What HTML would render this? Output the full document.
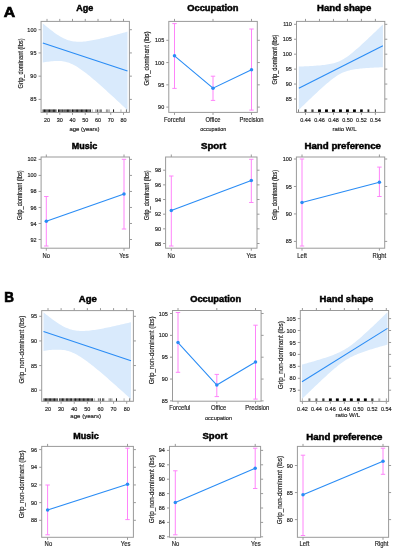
<!DOCTYPE html>
<html><head><meta charset="utf-8"><style>
html,body{margin:0;padding:0;background:#fff;width:396px;height:550px;overflow:hidden}
svg{display:block;will-change:transform;font-family:"Liberation Sans", sans-serif}
</style></head><body>
<svg width="396" height="550" viewBox="0 0 396 550" fill="#1e1e1e">
<polygon fill="#d9eafc" points="42.80,23.40 44.21,24.59 45.62,25.77 47.03,26.93 48.45,28.08 49.86,29.20 51.27,30.29 52.68,31.36 54.09,32.40 55.50,33.41 56.92,34.38 58.33,35.30 59.74,36.17 61.15,37.00 62.56,37.76 63.97,38.47 65.39,39.10 66.80,39.67 68.21,40.17 69.62,40.60 71.03,40.95 72.44,41.24 73.86,41.46 75.27,41.62 76.68,41.72 78.09,41.77 79.50,41.77 80.91,41.73 82.33,41.65 83.74,41.54 85.15,41.40 86.56,41.23 87.97,41.03 89.38,40.82 90.80,40.59 92.21,40.34 93.62,40.07 95.03,39.79 96.44,39.50 97.85,39.20 99.27,38.89 100.68,38.58 102.09,38.25 103.50,37.92 104.91,37.58 106.32,37.23 107.74,36.88 109.15,36.52 110.56,36.16 111.97,35.80 113.38,35.43 114.79,35.06 116.21,34.69 117.62,34.31 119.03,33.93 120.44,33.55 121.85,33.16 123.27,32.77 124.68,32.38 126.09,31.99 127.50,31.60 127.50,110.20 126.09,108.88 124.68,107.56 123.27,106.24 121.85,104.92 120.44,103.60 119.03,102.29 117.62,100.98 116.21,99.67 114.79,98.37 113.38,97.07 111.97,95.77 110.56,94.48 109.15,93.19 107.74,91.90 106.32,90.62 104.91,89.34 103.50,88.07 102.09,86.81 100.68,85.55 99.27,84.31 97.85,83.07 96.44,81.84 95.03,80.62 93.62,79.41 92.21,78.21 90.80,77.03 89.38,75.87 87.97,74.73 86.56,73.60 85.15,72.50 83.74,71.43 82.33,70.39 80.91,69.38 79.50,68.41 78.09,67.48 76.68,66.60 75.27,65.77 73.86,65.00 72.44,64.29 71.03,63.65 69.62,63.07 68.21,62.57 66.80,62.14 65.39,61.78 63.97,61.48 62.56,61.26 61.15,61.09 59.74,60.99 58.33,60.93 56.92,60.92 55.50,60.96 54.09,61.04 52.68,61.15 51.27,61.29 49.86,61.45 48.45,61.64 47.03,61.86 45.62,62.09 44.21,62.34 42.80,62.60"/>
<line x1="42.8" y1="43.0" x2="127.5" y2="70.9" stroke="#2a8cf5" stroke-width="1.1"/>
<rect x="42.67" y="109.40" width="1.0" height="3" fill="#000" fill-opacity="0.95"/>
<rect x="43.95" y="109.40" width="1.0" height="3" fill="#000" fill-opacity="0.95"/>
<rect x="45.23" y="109.40" width="1.0" height="3" fill="#000" fill-opacity="0.95"/>
<rect x="46.50" y="109.40" width="1.0" height="3" fill="#000" fill-opacity="0.95"/>
<rect x="47.77" y="109.40" width="1.0" height="3" fill="#000" fill-opacity="0.95"/>
<rect x="49.05" y="109.40" width="1.0" height="3" fill="#000" fill-opacity="0.95"/>
<rect x="50.33" y="109.40" width="1.0" height="3" fill="#000" fill-opacity="0.95"/>
<rect x="51.60" y="109.40" width="1.0" height="3" fill="#000" fill-opacity="0.95"/>
<rect x="52.88" y="109.40" width="1.0" height="3" fill="#000" fill-opacity="0.95"/>
<rect x="54.15" y="109.40" width="1.0" height="3" fill="#000" fill-opacity="0.95"/>
<rect x="55.42" y="109.40" width="1.0" height="3" fill="#000" fill-opacity="0.95"/>
<rect x="57.98" y="109.40" width="1.0" height="3" fill="#000" fill-opacity="0.95"/>
<rect x="59.25" y="109.40" width="1.0" height="3" fill="#000" fill-opacity="0.95"/>
<rect x="60.52" y="109.40" width="1.0" height="3" fill="#000" fill-opacity="0.95"/>
<rect x="61.80" y="109.40" width="1.0" height="3" fill="#000" fill-opacity="0.95"/>
<rect x="63.08" y="109.40" width="1.0" height="3" fill="#000" fill-opacity="0.6"/>
<rect x="64.35" y="109.40" width="1.0" height="3" fill="#000" fill-opacity="0.95"/>
<rect x="65.62" y="109.40" width="1.0" height="3" fill="#000" fill-opacity="0.95"/>
<rect x="66.90" y="109.40" width="1.0" height="3" fill="#000" fill-opacity="0.95"/>
<rect x="68.17" y="109.40" width="1.0" height="3" fill="#000" fill-opacity="0.95"/>
<rect x="69.45" y="109.40" width="1.0" height="3" fill="#000" fill-opacity="0.95"/>
<rect x="70.72" y="109.40" width="1.0" height="3" fill="#000" fill-opacity="0.6"/>
<rect x="72.00" y="109.40" width="1.0" height="3" fill="#000" fill-opacity="0.95"/>
<rect x="73.28" y="109.40" width="1.0" height="3" fill="#000" fill-opacity="0.95"/>
<rect x="74.55" y="109.40" width="1.0" height="3" fill="#000" fill-opacity="0.95"/>
<rect x="75.83" y="109.40" width="1.0" height="3" fill="#000" fill-opacity="0.95"/>
<rect x="77.10" y="109.40" width="1.0" height="3" fill="#000" fill-opacity="0.95"/>
<rect x="78.38" y="109.40" width="1.0" height="3" fill="#000" fill-opacity="0.95"/>
<rect x="79.65" y="109.40" width="1.0" height="3" fill="#000" fill-opacity="0.95"/>
<rect x="80.92" y="109.40" width="1.0" height="3" fill="#000" fill-opacity="0.95"/>
<rect x="82.20" y="109.40" width="1.0" height="3" fill="#000" fill-opacity="0.95"/>
<rect x="83.47" y="109.40" width="1.0" height="3" fill="#000" fill-opacity="0.95"/>
<rect x="84.75" y="109.40" width="1.0" height="3" fill="#000" fill-opacity="0.95"/>
<rect x="86.03" y="109.40" width="1.0" height="3" fill="#000" fill-opacity="0.95"/>
<rect x="87.30" y="109.40" width="1.0" height="3" fill="#000" fill-opacity="0.95"/>
<rect x="88.57" y="109.40" width="1.0" height="3" fill="#000" fill-opacity="0.95"/>
<rect x="89.85" y="109.40" width="1.0" height="3" fill="#000" fill-opacity="0.95"/>
<rect x="91.76" y="109.40" width="1.0" height="3" fill="#000" fill-opacity="0.3"/>
<rect x="95.46" y="109.40" width="1.0" height="3" fill="#000" fill-opacity="0.55"/>
<rect x="97.24" y="109.40" width="1.0" height="3" fill="#000" fill-opacity="0.9"/>
<rect x="99.54" y="109.40" width="1.0" height="3" fill="#000" fill-opacity="0.7"/>
<rect x="100.69" y="109.40" width="1.0" height="3" fill="#000" fill-opacity="0.7"/>
<rect x="105.91" y="109.40" width="1.0" height="3" fill="#000" fill-opacity="0.45"/>
<rect x="107.19" y="109.40" width="1.0" height="3" fill="#000" fill-opacity="0.45"/>
<rect x="108.59" y="109.40" width="1.0" height="3" fill="#000" fill-opacity="0.45"/>
<rect x="113.05" y="109.40" width="1.0" height="3" fill="#000" fill-opacity="0.9"/>
<rect x="120.45" y="109.40" width="1.0" height="3" fill="#000" fill-opacity="0.3"/>
<rect x="125.93" y="109.40" width="1.0" height="3" fill="#000" fill-opacity="0.55"/>
<rect x="41.06" y="21.4" width="88.34" height="91.0" fill="none" stroke="#9a9a9a" stroke-width="1"/>
<text transform="translate(36.46 101.45) scale(0.0960 0.1)" font-size="57.0" text-anchor="end" stroke="#1e1e1e" stroke-width="1.70">85</text>
<text transform="translate(36.46 78.22) scale(0.0960 0.1)" font-size="57.0" text-anchor="end" stroke="#1e1e1e" stroke-width="1.70">90</text>
<text transform="translate(36.46 54.99) scale(0.0960 0.1)" font-size="57.0" text-anchor="end" stroke="#1e1e1e" stroke-width="1.70">95</text>
<text transform="translate(36.46 31.75) scale(0.0960 0.1)" font-size="57.0" text-anchor="end" stroke="#1e1e1e" stroke-width="1.70">100</text>
<text transform="translate(47.00 121.70) scale(0.0960 0.1)" font-size="57.0" text-anchor="middle" stroke="#1e1e1e" stroke-width="1.70">20</text>
<text transform="translate(59.75 121.70) scale(0.0960 0.1)" font-size="57.0" text-anchor="middle" stroke="#1e1e1e" stroke-width="1.70">30</text>
<text transform="translate(72.50 121.70) scale(0.0960 0.1)" font-size="57.0" text-anchor="middle" stroke="#1e1e1e" stroke-width="1.70">40</text>
<text transform="translate(85.25 121.70) scale(0.0960 0.1)" font-size="57.0" text-anchor="middle" stroke="#1e1e1e" stroke-width="1.70">50</text>
<text transform="translate(98.00 121.70) scale(0.0960 0.1)" font-size="57.0" text-anchor="middle" stroke="#1e1e1e" stroke-width="1.70">60</text>
<text transform="translate(110.75 121.70) scale(0.0960 0.1)" font-size="57.0" text-anchor="middle" stroke="#1e1e1e" stroke-width="1.70">70</text>
<text transform="translate(123.50 121.70) scale(0.0960 0.1)" font-size="57.0" text-anchor="middle" stroke="#1e1e1e" stroke-width="1.70">80</text>
<path d="M38.56 99.40H41.06M129.4 99.40H131.90M38.56 76.17H41.06M129.4 76.17H131.90M38.56 52.93H41.06M129.4 52.93H131.90M38.56 29.70H41.06M129.4 29.70H131.90M47.00 18.90V21.4M47.00 112.4V114.90M59.75 18.90V21.4M59.75 112.4V114.90M72.50 18.90V21.4M72.50 112.4V114.90M85.25 18.90V21.4M85.25 112.4V114.90M98.00 18.90V21.4M98.00 112.4V114.90M110.75 18.90V21.4M110.75 112.4V114.90M123.50 18.90V21.4M123.50 112.4V114.90" stroke="#9a9a9a" stroke-width="1" fill="none"/>
<text transform="translate(84.75 11.10) scale(0.1059 0.1)" font-size="85.0" text-anchor="middle" font-weight="bold" fill="#000" stroke="#000" stroke-width="4.50">Age</text>
<text transform="translate(84.50 130.60) scale(0.1012 0.1)" font-size="59.0" text-anchor="middle" stroke="#1e1e1e" stroke-width="1.70">age (years)</text>
<text transform="translate(22.90 63.45) rotate(-90) scale(0.0904 0.1)" font-size="63.0" text-anchor="middle" stroke="#1e1e1e" stroke-width="1.70">Grip_dominant (lbs)</text>
<polyline fill="none" stroke="#2a8cf5" stroke-width="1.1" points="174.50,55.80 213.00,88.20 251.50,69.70"/>
<path d="M172.30 23.60H176.70M174.50 23.60V88.40M172.30 88.40H176.70" stroke="#ff84fa" stroke-width="1" fill="none"/>
<path d="M210.80 76.20H215.20M213.00 76.20V100.40M210.80 100.40H215.20" stroke="#ff84fa" stroke-width="1" fill="none"/>
<path d="M249.30 29.00H253.70M251.50 29.00V110.10M249.30 110.10H253.70" stroke="#ff84fa" stroke-width="1" fill="none"/>
<circle cx="174.50" cy="55.80" r="1.75" fill="#2a8cf5"/>
<circle cx="213.00" cy="88.20" r="1.75" fill="#2a8cf5"/>
<circle cx="251.50" cy="69.70" r="1.75" fill="#2a8cf5"/>
<rect x="168.8" y="21.4" width="88.5" height="91.0" fill="none" stroke="#9a9a9a" stroke-width="1"/>
<text transform="translate(164.20 109.15) scale(0.0960 0.1)" font-size="57.0" text-anchor="end" stroke="#1e1e1e" stroke-width="1.70">90</text>
<text transform="translate(164.20 86.89) scale(0.0960 0.1)" font-size="57.0" text-anchor="end" stroke="#1e1e1e" stroke-width="1.70">95</text>
<text transform="translate(164.20 64.62) scale(0.0960 0.1)" font-size="57.0" text-anchor="end" stroke="#1e1e1e" stroke-width="1.70">100</text>
<text transform="translate(164.20 42.35) scale(0.0960 0.1)" font-size="57.0" text-anchor="end" stroke="#1e1e1e" stroke-width="1.70">105</text>
<text transform="translate(174.50 122.20) scale(0.0900 0.1)" font-size="65.0" text-anchor="middle" stroke="#1e1e1e" stroke-width="1.70">Forceful</text>
<text transform="translate(213.00 122.20) scale(0.0900 0.1)" font-size="65.0" text-anchor="middle" stroke="#1e1e1e" stroke-width="1.70">Office</text>
<text transform="translate(251.50 122.20) scale(0.0900 0.1)" font-size="65.0" text-anchor="middle" stroke="#1e1e1e" stroke-width="1.70">Precision</text>
<path d="M166.30 107.10H168.8M257.3 107.10H259.80M166.30 84.83H168.8M257.3 84.83H259.80M166.30 62.57H168.8M257.3 62.57H259.80M166.30 40.30H168.8M257.3 40.30H259.80M174.50 18.90V21.4M174.50 112.4V114.90M213.00 18.90V21.4M213.00 112.4V114.90M251.50 18.90V21.4M251.50 112.4V114.90" stroke="#9a9a9a" stroke-width="1" fill="none"/>
<text transform="translate(212.85 11.30) scale(0.1097 0.1)" font-size="85.0" text-anchor="middle" font-weight="bold" fill="#000" stroke="#000" stroke-width="4.50">Occupation</text>
<text transform="translate(213.20 131.10) scale(0.0881 0.1)" font-size="61.0" text-anchor="middle" stroke="#1e1e1e" stroke-width="1.70">occupation</text>
<text transform="translate(149.30 58.40) rotate(-90) scale(0.0937 0.1)" font-size="66.0" text-anchor="middle" stroke="#1e1e1e" stroke-width="1.70">Grip_dominant (lbs)</text>
<polygon fill="#d9eafc" points="298.80,66.60 300.20,66.54 301.60,66.49 303.00,66.42 304.41,66.36 305.81,66.30 307.21,66.23 308.61,66.15 310.01,66.08 311.42,65.99 312.82,65.91 314.22,65.82 315.62,65.72 317.02,65.61 318.42,65.50 319.82,65.38 321.23,65.24 322.63,65.10 324.03,64.94 325.43,64.76 326.83,64.56 328.24,64.34 329.64,64.09 331.04,63.81 332.44,63.50 333.84,63.14 335.24,62.73 336.64,62.27 338.05,61.75 339.45,61.16 340.85,60.50 342.25,59.77 343.65,58.97 345.06,58.10 346.46,57.16 347.86,56.17 349.26,55.13 350.66,54.05 352.06,52.92 353.46,51.76 354.87,50.58 356.27,49.37 357.67,48.14 359.07,46.89 360.47,45.63 361.88,44.35 363.28,43.07 364.68,41.77 366.08,40.46 367.48,39.15 368.88,37.83 370.28,36.51 371.69,35.18 373.09,33.84 374.49,32.50 375.89,31.16 377.29,29.81 378.69,28.46 380.10,27.11 381.50,25.76 382.90,24.40 382.90,67.20 381.50,67.26 380.10,67.32 378.69,67.38 377.29,67.44 375.89,67.51 374.49,67.58 373.09,67.65 371.69,67.73 370.28,67.81 368.88,67.90 367.48,68.00 366.08,68.10 364.68,68.20 363.28,68.32 361.88,68.45 360.47,68.58 359.07,68.73 357.67,68.90 356.27,69.08 354.87,69.29 353.46,69.52 352.06,69.77 350.66,70.06 349.26,70.39 347.86,70.76 346.46,71.18 345.06,71.66 343.65,72.21 342.25,72.82 340.85,73.50 339.45,74.25 338.05,75.08 336.64,75.97 335.24,76.92 333.84,77.93 332.44,78.98 331.04,80.08 329.64,81.21 328.24,82.38 326.83,83.57 325.43,84.79 324.03,86.02 322.63,87.28 321.23,88.54 319.82,89.82 318.42,91.11 317.02,92.41 315.62,93.72 314.22,95.04 312.82,96.36 311.42,97.69 310.01,99.02 308.61,100.35 307.21,101.69 305.81,103.04 304.41,104.39 303.00,105.74 301.60,107.09 300.20,108.44 298.80,109.80"/>
<line x1="298.8" y1="88.2" x2="382.9" y2="45.8" stroke="#2a8cf5" stroke-width="1.1"/>
<rect x="298.01" y="109.40" width="1.0" height="3" fill="#000" fill-opacity="0.5"/>
<rect x="304.50" y="109.40" width="2.0" height="3" fill="#000" fill-opacity="0.85"/>
<rect x="311.39" y="109.40" width="2.2" height="3" fill="#000" fill-opacity="0.75"/>
<rect x="318.03" y="109.40" width="2.9" height="3" fill="#000" fill-opacity="1"/>
<rect x="325.02" y="109.40" width="2.9" height="3" fill="#000" fill-opacity="1"/>
<rect x="332.01" y="109.40" width="2.9" height="3" fill="#000" fill-opacity="1"/>
<rect x="339.00" y="109.40" width="2.9" height="3" fill="#000" fill-opacity="1"/>
<rect x="345.99" y="109.40" width="2.9" height="3" fill="#000" fill-opacity="1"/>
<rect x="352.98" y="109.40" width="2.9" height="3" fill="#000" fill-opacity="1"/>
<rect x="360.12" y="109.40" width="2.6" height="3" fill="#000" fill-opacity="1"/>
<rect x="367.51" y="109.40" width="1.8" height="3" fill="#000" fill-opacity="0.9"/>
<rect x="374.90" y="109.40" width="1.0" height="3" fill="#000" fill-opacity="0.8"/>
<rect x="296.5" y="21.4" width="88.30000000000001" height="91.0" fill="none" stroke="#9a9a9a" stroke-width="1"/>
<text transform="translate(291.90 101.05) scale(0.0960 0.1)" font-size="57.0" text-anchor="end" stroke="#1e1e1e" stroke-width="1.70">85</text>
<text transform="translate(291.90 86.11) scale(0.0960 0.1)" font-size="57.0" text-anchor="end" stroke="#1e1e1e" stroke-width="1.70">90</text>
<text transform="translate(291.90 71.17) scale(0.0960 0.1)" font-size="57.0" text-anchor="end" stroke="#1e1e1e" stroke-width="1.70">95</text>
<text transform="translate(291.90 56.23) scale(0.0960 0.1)" font-size="57.0" text-anchor="end" stroke="#1e1e1e" stroke-width="1.70">100</text>
<text transform="translate(291.90 41.29) scale(0.0960 0.1)" font-size="57.0" text-anchor="end" stroke="#1e1e1e" stroke-width="1.70">105</text>
<text transform="translate(291.90 26.35) scale(0.0960 0.1)" font-size="57.0" text-anchor="end" stroke="#1e1e1e" stroke-width="1.70">110</text>
<text transform="translate(305.50 121.70) scale(0.0960 0.1)" font-size="57.0" text-anchor="middle" stroke="#1e1e1e" stroke-width="1.70">0.44</text>
<text transform="translate(319.48 121.70) scale(0.0960 0.1)" font-size="57.0" text-anchor="middle" stroke="#1e1e1e" stroke-width="1.70">0.46</text>
<text transform="translate(333.46 121.70) scale(0.0960 0.1)" font-size="57.0" text-anchor="middle" stroke="#1e1e1e" stroke-width="1.70">0.48</text>
<text transform="translate(347.44 121.70) scale(0.0960 0.1)" font-size="57.0" text-anchor="middle" stroke="#1e1e1e" stroke-width="1.70">0.50</text>
<text transform="translate(361.42 121.70) scale(0.0960 0.1)" font-size="57.0" text-anchor="middle" stroke="#1e1e1e" stroke-width="1.70">0.52</text>
<text transform="translate(375.40 121.70) scale(0.0960 0.1)" font-size="57.0" text-anchor="middle" stroke="#1e1e1e" stroke-width="1.70">0.54</text>
<path d="M294.00 99.00H296.5M384.8 99.00H387.30M294.00 84.06H296.5M384.8 84.06H387.30M294.00 69.12H296.5M384.8 69.12H387.30M294.00 54.18H296.5M384.8 54.18H387.30M294.00 39.24H296.5M384.8 39.24H387.30M294.00 24.30H296.5M384.8 24.30H387.30M305.50 18.90V21.4M305.50 112.4V114.90M319.48 18.90V21.4M319.48 112.4V114.90M333.46 18.90V21.4M333.46 112.4V114.90M347.44 18.90V21.4M347.44 112.4V114.90M361.42 18.90V21.4M361.42 112.4V114.90M375.40 18.90V21.4M375.40 112.4V114.90" stroke="#9a9a9a" stroke-width="1" fill="none"/>
<text transform="translate(344.15 11.10) scale(0.1125 0.1)" font-size="85.0" text-anchor="middle" font-weight="bold" fill="#000" stroke="#000" stroke-width="4.50">Hand shape</text>
<text transform="translate(344.45 130.70) scale(0.1021 0.1)" font-size="59.0" text-anchor="middle" stroke="#1e1e1e" stroke-width="1.70">ratio W/L</text>
<text transform="translate(276.80 59.55) rotate(-90) scale(0.0907 0.1)" font-size="63.0" text-anchor="middle" stroke="#1e1e1e" stroke-width="1.70">Grip_dominant (lbs)</text>
<polyline fill="none" stroke="#2a8cf5" stroke-width="1.1" points="46.30,221.20 124.00,194.00"/>
<path d="M44.10 196.50H48.50M46.30 196.50V246.00M44.10 246.00H48.50" stroke="#ff84fa" stroke-width="1" fill="none"/>
<path d="M121.80 159.30H126.20M124.00 159.30V229.00M121.80 229.00H126.20" stroke="#ff84fa" stroke-width="1" fill="none"/>
<circle cx="46.30" cy="221.20" r="1.75" fill="#2a8cf5"/>
<circle cx="124.00" cy="194.00" r="1.75" fill="#2a8cf5"/>
<rect x="41.1" y="157.0" width="88.4" height="91.19999999999999" fill="none" stroke="#9a9a9a" stroke-width="1"/>
<text transform="translate(36.50 241.55) scale(0.0960 0.1)" font-size="57.0" text-anchor="end" stroke="#1e1e1e" stroke-width="1.70">92</text>
<text transform="translate(36.50 225.53) scale(0.0960 0.1)" font-size="57.0" text-anchor="end" stroke="#1e1e1e" stroke-width="1.70">94</text>
<text transform="translate(36.50 209.51) scale(0.0960 0.1)" font-size="57.0" text-anchor="end" stroke="#1e1e1e" stroke-width="1.70">96</text>
<text transform="translate(36.50 193.49) scale(0.0960 0.1)" font-size="57.0" text-anchor="end" stroke="#1e1e1e" stroke-width="1.70">98</text>
<text transform="translate(36.50 177.47) scale(0.0960 0.1)" font-size="57.0" text-anchor="end" stroke="#1e1e1e" stroke-width="1.70">100</text>
<text transform="translate(36.50 161.45) scale(0.0960 0.1)" font-size="57.0" text-anchor="end" stroke="#1e1e1e" stroke-width="1.70">102</text>
<text transform="translate(46.30 258.00) scale(0.0900 0.1)" font-size="65.0" text-anchor="middle" stroke="#1e1e1e" stroke-width="1.70">No</text>
<text transform="translate(124.00 258.00) scale(0.0900 0.1)" font-size="65.0" text-anchor="middle" stroke="#1e1e1e" stroke-width="1.70">Yes</text>
<path d="M38.60 239.50H41.1M129.5 239.50H132.00M38.60 223.48H41.1M129.5 223.48H132.00M38.60 207.46H41.1M129.5 207.46H132.00M38.60 191.44H41.1M129.5 191.44H132.00M38.60 175.42H41.1M129.5 175.42H132.00M38.60 159.40H41.1M129.5 159.40H132.00M46.30 154.50V157.0M46.30 248.2V250.70M124.00 154.50V157.0M124.00 248.2V250.70" stroke="#9a9a9a" stroke-width="1" fill="none"/>
<text transform="translate(84.60 148.70) scale(0.1059 0.1)" font-size="85.0" text-anchor="middle" font-weight="bold" fill="#000" stroke="#000" stroke-width="4.50">Music</text>
<text transform="translate(21.60 195.25) rotate(-90) scale(0.0904 0.1)" font-size="63.0" text-anchor="middle" stroke="#1e1e1e" stroke-width="1.70">Grip_dominant (lbs)</text>
<polyline fill="none" stroke="#2a8cf5" stroke-width="1.1" points="171.30,210.60 251.30,180.50"/>
<path d="M169.10 176.00H173.50M171.30 176.00V246.00M169.10 246.00H173.50" stroke="#ff84fa" stroke-width="1" fill="none"/>
<path d="M249.10 159.30H253.50M251.30 159.30V202.50M249.10 202.50H253.50" stroke="#ff84fa" stroke-width="1" fill="none"/>
<circle cx="171.30" cy="210.60" r="1.75" fill="#2a8cf5"/>
<circle cx="251.30" cy="180.50" r="1.75" fill="#2a8cf5"/>
<rect x="165.6" y="157.0" width="91.4" height="91.19999999999999" fill="none" stroke="#9a9a9a" stroke-width="1"/>
<text transform="translate(161.00 245.55) scale(0.0960 0.1)" font-size="57.0" text-anchor="end" stroke="#1e1e1e" stroke-width="1.70">88</text>
<text transform="translate(161.00 230.89) scale(0.0960 0.1)" font-size="57.0" text-anchor="end" stroke="#1e1e1e" stroke-width="1.70">90</text>
<text transform="translate(161.00 216.23) scale(0.0960 0.1)" font-size="57.0" text-anchor="end" stroke="#1e1e1e" stroke-width="1.70">92</text>
<text transform="translate(161.00 201.57) scale(0.0960 0.1)" font-size="57.0" text-anchor="end" stroke="#1e1e1e" stroke-width="1.70">94</text>
<text transform="translate(161.00 186.91) scale(0.0960 0.1)" font-size="57.0" text-anchor="end" stroke="#1e1e1e" stroke-width="1.70">96</text>
<text transform="translate(161.00 172.25) scale(0.0960 0.1)" font-size="57.0" text-anchor="end" stroke="#1e1e1e" stroke-width="1.70">98</text>
<text transform="translate(171.30 258.00) scale(0.0900 0.1)" font-size="65.0" text-anchor="middle" stroke="#1e1e1e" stroke-width="1.70">No</text>
<text transform="translate(251.30 258.00) scale(0.0900 0.1)" font-size="65.0" text-anchor="middle" stroke="#1e1e1e" stroke-width="1.70">Yes</text>
<path d="M163.10 243.50H165.6M257.0 243.50H259.50M163.10 228.84H165.6M257.0 228.84H259.50M163.10 214.18H165.6M257.0 214.18H259.50M163.10 199.52H165.6M257.0 199.52H259.50M163.10 184.86H165.6M257.0 184.86H259.50M163.10 170.20H165.6M257.0 170.20H259.50M171.30 154.50V157.0M171.30 248.2V250.70M251.30 154.50V157.0M251.30 248.2V250.70" stroke="#9a9a9a" stroke-width="1" fill="none"/>
<text transform="translate(213.60 148.70) scale(0.1136 0.1)" font-size="85.0" text-anchor="middle" font-weight="bold" fill="#000" stroke="#000" stroke-width="4.50">Sport</text>
<text transform="translate(149.40 195.25) rotate(-90) scale(0.0904 0.1)" font-size="63.0" text-anchor="middle" stroke="#1e1e1e" stroke-width="1.70">Grip_dominant (lbs)</text>
<polyline fill="none" stroke="#2a8cf5" stroke-width="1.1" points="302.00,202.50 379.40,182.30"/>
<path d="M299.80 159.00H304.20M302.00 159.00V246.00M299.80 246.00H304.20" stroke="#ff84fa" stroke-width="1" fill="none"/>
<path d="M377.20 167.10H381.60M379.40 167.10V196.50M377.20 196.50H381.60" stroke="#ff84fa" stroke-width="1" fill="none"/>
<circle cx="302.00" cy="202.50" r="1.75" fill="#2a8cf5"/>
<circle cx="379.40" cy="182.30" r="1.75" fill="#2a8cf5"/>
<rect x="296.4" y="157.0" width="88.30000000000001" height="91.19999999999999" fill="none" stroke="#9a9a9a" stroke-width="1"/>
<text transform="translate(291.80 243.45) scale(0.0960 0.1)" font-size="57.0" text-anchor="end" stroke="#1e1e1e" stroke-width="1.70">85</text>
<text transform="translate(291.80 215.99) scale(0.0960 0.1)" font-size="57.0" text-anchor="end" stroke="#1e1e1e" stroke-width="1.70">90</text>
<text transform="translate(291.80 188.52) scale(0.0960 0.1)" font-size="57.0" text-anchor="end" stroke="#1e1e1e" stroke-width="1.70">95</text>
<text transform="translate(291.80 161.05) scale(0.0960 0.1)" font-size="57.0" text-anchor="end" stroke="#1e1e1e" stroke-width="1.70">100</text>
<text transform="translate(302.00 258.00) scale(0.0900 0.1)" font-size="65.0" text-anchor="middle" stroke="#1e1e1e" stroke-width="1.70">Left</text>
<text transform="translate(379.40 258.00) scale(0.0900 0.1)" font-size="65.0" text-anchor="middle" stroke="#1e1e1e" stroke-width="1.70">Right</text>
<path d="M293.90 241.40H296.4M384.7 241.40H387.20M293.90 213.93H296.4M384.7 213.93H387.20M293.90 186.47H296.4M384.7 186.47H387.20M293.90 159.00H296.4M384.7 159.00H387.20M302.00 154.50V157.0M302.00 248.2V250.70M379.40 154.50V157.0M379.40 248.2V250.70" stroke="#9a9a9a" stroke-width="1" fill="none"/>
<text transform="translate(342.70 148.70) scale(0.1143 0.1)" font-size="85.0" text-anchor="middle" font-weight="bold" fill="#000" stroke="#000" stroke-width="4.50">Hand preference</text>
<text transform="translate(277.10 195.10) rotate(-90) scale(0.0909 0.1)" font-size="63.0" text-anchor="middle" stroke="#1e1e1e" stroke-width="1.70">Grip_dominant (lbs)</text>
<polygon fill="#d9eafc" points="43.50,312.30 44.96,313.49 46.42,314.67 47.88,315.83 49.33,316.97 50.79,318.09 52.25,319.18 53.71,320.25 55.17,321.29 56.62,322.30 58.08,323.26 59.54,324.19 61.00,325.07 62.46,325.90 63.92,326.67 65.38,327.38 66.83,328.03 68.29,328.61 69.75,329.13 71.21,329.58 72.67,329.96 74.12,330.27 75.58,330.52 77.04,330.71 78.50,330.85 79.96,330.93 81.42,330.97 82.88,330.97 84.33,330.93 85.79,330.86 87.25,330.76 88.71,330.63 90.17,330.48 91.62,330.30 93.08,330.11 94.54,329.90 96.00,329.68 97.46,329.45 98.92,329.20 100.38,328.94 101.83,328.67 103.29,328.39 104.75,328.11 106.21,327.82 107.67,327.52 109.12,327.21 110.58,326.91 112.04,326.59 113.50,326.27 114.96,325.95 116.42,325.62 117.88,325.29 119.33,324.96 120.79,324.62 122.25,324.28 123.71,323.94 125.17,323.60 126.62,323.25 128.08,322.90 129.54,322.55 131.00,322.20 131.00,399.20 129.54,397.88 128.08,396.56 126.62,395.24 125.17,393.92 123.71,392.61 122.25,391.30 120.79,389.99 119.33,388.68 117.88,387.38 116.42,386.08 114.96,384.78 113.50,383.49 112.04,382.20 110.58,380.91 109.12,379.64 107.67,378.36 106.21,377.09 104.75,375.83 103.29,374.58 101.83,373.33 100.38,372.09 98.92,370.86 97.46,369.64 96.00,368.44 94.54,367.25 93.08,366.07 91.62,364.91 90.17,363.76 88.71,362.64 87.25,361.54 85.79,360.47 84.33,359.43 82.88,358.42 81.42,357.45 79.96,356.52 78.50,355.63 77.04,354.80 75.58,354.02 74.12,353.30 72.67,352.64 71.21,352.05 69.75,351.53 68.29,351.08 66.83,350.69 65.38,350.37 63.92,350.11 62.46,349.91 61.00,349.77 59.54,349.68 58.08,349.64 56.62,349.63 55.17,349.67 53.71,349.74 52.25,349.84 50.79,349.96 49.33,350.11 47.88,350.28 46.42,350.47 44.96,350.68 43.50,350.90"/>
<line x1="43.5" y1="331.6" x2="131.0" y2="360.7" stroke="#2a8cf5" stroke-width="1.1"/>
<rect x="43.56" y="398.30" width="1.0" height="3" fill="#000" fill-opacity="0.95"/>
<rect x="44.88" y="398.30" width="1.0" height="3" fill="#000" fill-opacity="0.95"/>
<rect x="46.19" y="398.30" width="1.0" height="3" fill="#000" fill-opacity="0.95"/>
<rect x="47.50" y="398.30" width="1.0" height="3" fill="#000" fill-opacity="0.95"/>
<rect x="48.81" y="398.30" width="1.0" height="3" fill="#000" fill-opacity="0.95"/>
<rect x="50.12" y="398.30" width="1.0" height="3" fill="#000" fill-opacity="0.95"/>
<rect x="51.44" y="398.30" width="1.0" height="3" fill="#000" fill-opacity="0.95"/>
<rect x="52.75" y="398.30" width="1.0" height="3" fill="#000" fill-opacity="0.95"/>
<rect x="54.06" y="398.30" width="1.0" height="3" fill="#000" fill-opacity="0.95"/>
<rect x="55.37" y="398.30" width="1.0" height="3" fill="#000" fill-opacity="0.95"/>
<rect x="56.68" y="398.30" width="1.0" height="3" fill="#000" fill-opacity="0.95"/>
<rect x="59.30" y="398.30" width="1.0" height="3" fill="#000" fill-opacity="0.95"/>
<rect x="60.62" y="398.30" width="1.0" height="3" fill="#000" fill-opacity="0.95"/>
<rect x="61.93" y="398.30" width="1.0" height="3" fill="#000" fill-opacity="0.95"/>
<rect x="63.24" y="398.30" width="1.0" height="3" fill="#000" fill-opacity="0.95"/>
<rect x="64.55" y="398.30" width="1.0" height="3" fill="#000" fill-opacity="0.6"/>
<rect x="65.86" y="398.30" width="1.0" height="3" fill="#000" fill-opacity="0.95"/>
<rect x="67.17" y="398.30" width="1.0" height="3" fill="#000" fill-opacity="0.95"/>
<rect x="68.49" y="398.30" width="1.0" height="3" fill="#000" fill-opacity="0.95"/>
<rect x="69.80" y="398.30" width="1.0" height="3" fill="#000" fill-opacity="0.95"/>
<rect x="71.11" y="398.30" width="1.0" height="3" fill="#000" fill-opacity="0.95"/>
<rect x="72.42" y="398.30" width="1.0" height="3" fill="#000" fill-opacity="0.6"/>
<rect x="73.73" y="398.30" width="1.0" height="3" fill="#000" fill-opacity="0.95"/>
<rect x="75.05" y="398.30" width="1.0" height="3" fill="#000" fill-opacity="0.95"/>
<rect x="76.36" y="398.30" width="1.0" height="3" fill="#000" fill-opacity="0.95"/>
<rect x="77.67" y="398.30" width="1.0" height="3" fill="#000" fill-opacity="0.95"/>
<rect x="78.98" y="398.30" width="1.0" height="3" fill="#000" fill-opacity="0.95"/>
<rect x="80.29" y="398.30" width="1.0" height="3" fill="#000" fill-opacity="0.95"/>
<rect x="81.60" y="398.30" width="1.0" height="3" fill="#000" fill-opacity="0.95"/>
<rect x="82.91" y="398.30" width="1.0" height="3" fill="#000" fill-opacity="0.95"/>
<rect x="84.23" y="398.30" width="1.0" height="3" fill="#000" fill-opacity="0.95"/>
<rect x="85.54" y="398.30" width="1.0" height="3" fill="#000" fill-opacity="0.95"/>
<rect x="86.85" y="398.30" width="1.0" height="3" fill="#000" fill-opacity="0.95"/>
<rect x="88.16" y="398.30" width="1.0" height="3" fill="#000" fill-opacity="0.95"/>
<rect x="89.47" y="398.30" width="1.0" height="3" fill="#000" fill-opacity="0.95"/>
<rect x="90.78" y="398.30" width="1.0" height="3" fill="#000" fill-opacity="0.95"/>
<rect x="92.10" y="398.30" width="1.0" height="3" fill="#000" fill-opacity="0.95"/>
<rect x="94.06" y="398.30" width="1.0" height="3" fill="#000" fill-opacity="0.3"/>
<rect x="97.87" y="398.30" width="1.0" height="3" fill="#000" fill-opacity="0.55"/>
<rect x="99.70" y="398.30" width="1.0" height="3" fill="#000" fill-opacity="0.9"/>
<rect x="102.07" y="398.30" width="1.0" height="3" fill="#000" fill-opacity="0.7"/>
<rect x="103.25" y="398.30" width="1.0" height="3" fill="#000" fill-opacity="0.7"/>
<rect x="108.62" y="398.30" width="1.0" height="3" fill="#000" fill-opacity="0.45"/>
<rect x="109.94" y="398.30" width="1.0" height="3" fill="#000" fill-opacity="0.45"/>
<rect x="111.38" y="398.30" width="1.0" height="3" fill="#000" fill-opacity="0.45"/>
<rect x="115.97" y="398.30" width="1.0" height="3" fill="#000" fill-opacity="0.9"/>
<rect x="123.58" y="398.30" width="1.0" height="3" fill="#000" fill-opacity="0.3"/>
<rect x="129.22" y="398.30" width="1.0" height="3" fill="#000" fill-opacity="0.55"/>
<rect x="41.7" y="310.6" width="91.7" height="90.69999999999999" fill="none" stroke="#9a9a9a" stroke-width="1"/>
<text transform="translate(37.10 392.25) scale(0.0960 0.1)" font-size="57.0" text-anchor="end" stroke="#1e1e1e" stroke-width="1.70">80</text>
<text transform="translate(37.10 367.62) scale(0.0960 0.1)" font-size="57.0" text-anchor="end" stroke="#1e1e1e" stroke-width="1.70">85</text>
<text transform="translate(37.10 342.99) scale(0.0960 0.1)" font-size="57.0" text-anchor="end" stroke="#1e1e1e" stroke-width="1.70">90</text>
<text transform="translate(37.10 318.35) scale(0.0960 0.1)" font-size="57.0" text-anchor="end" stroke="#1e1e1e" stroke-width="1.70">95</text>
<text transform="translate(48.00 410.60) scale(0.0960 0.1)" font-size="57.0" text-anchor="middle" stroke="#1e1e1e" stroke-width="1.70">20</text>
<text transform="translate(61.12 410.60) scale(0.0960 0.1)" font-size="57.0" text-anchor="middle" stroke="#1e1e1e" stroke-width="1.70">30</text>
<text transform="translate(74.23 410.60) scale(0.0960 0.1)" font-size="57.0" text-anchor="middle" stroke="#1e1e1e" stroke-width="1.70">40</text>
<text transform="translate(87.35 410.60) scale(0.0960 0.1)" font-size="57.0" text-anchor="middle" stroke="#1e1e1e" stroke-width="1.70">50</text>
<text transform="translate(100.47 410.60) scale(0.0960 0.1)" font-size="57.0" text-anchor="middle" stroke="#1e1e1e" stroke-width="1.70">60</text>
<text transform="translate(113.58 410.60) scale(0.0960 0.1)" font-size="57.0" text-anchor="middle" stroke="#1e1e1e" stroke-width="1.70">70</text>
<text transform="translate(126.70 410.60) scale(0.0960 0.1)" font-size="57.0" text-anchor="middle" stroke="#1e1e1e" stroke-width="1.70">80</text>
<path d="M39.20 390.20H41.7M133.4 390.20H135.90M39.20 365.57H41.7M133.4 365.57H135.90M39.20 340.93H41.7M133.4 340.93H135.90M39.20 316.30H41.7M133.4 316.30H135.90M48.00 308.10V310.6M48.00 401.3V403.80M61.12 308.10V310.6M61.12 401.3V403.80M74.23 308.10V310.6M74.23 401.3V403.80M87.35 308.10V310.6M87.35 401.3V403.80M100.47 308.10V310.6M100.47 401.3V403.80M113.58 308.10V310.6M113.58 401.3V403.80M126.70 308.10V310.6M126.70 401.3V403.80" stroke="#9a9a9a" stroke-width="1" fill="none"/>
<text transform="translate(87.75 301.90) scale(0.1121 0.1)" font-size="85.0" text-anchor="middle" font-weight="bold" fill="#000" stroke="#000" stroke-width="4.50">Age</text>
<text transform="translate(85.70 417.60) scale(0.0998 0.1)" font-size="61.0" text-anchor="middle" stroke="#1e1e1e" stroke-width="1.70">age (years)</text>
<text transform="translate(23.75 349.60) rotate(-90) scale(0.1001 0.1)" font-size="63.0" text-anchor="middle" stroke="#1e1e1e" stroke-width="1.70">Grip_non-dominant (lbs)</text>
<polyline fill="none" stroke="#2a8cf5" stroke-width="1.1" points="178.00,342.60 216.80,385.00 255.50,362.00"/>
<path d="M175.80 312.50H180.20M178.00 312.50V372.30M175.80 372.30H180.20" stroke="#ff84fa" stroke-width="1" fill="none"/>
<path d="M214.60 374.40H219.00M216.80 374.40V396.60M214.60 396.60H219.00" stroke="#ff84fa" stroke-width="1" fill="none"/>
<path d="M253.30 325.20H257.70M255.50 325.20V399.10M253.30 399.10H257.70" stroke="#ff84fa" stroke-width="1" fill="none"/>
<circle cx="178.00" cy="342.60" r="1.75" fill="#2a8cf5"/>
<circle cx="216.80" cy="385.00" r="1.75" fill="#2a8cf5"/>
<circle cx="255.50" cy="362.00" r="1.75" fill="#2a8cf5"/>
<rect x="172.5" y="310.5" width="88.60000000000002" height="90.69999999999999" fill="none" stroke="#9a9a9a" stroke-width="1"/>
<text transform="translate(167.90 402.95) scale(0.0960 0.1)" font-size="57.0" text-anchor="end" stroke="#1e1e1e" stroke-width="1.70">85</text>
<text transform="translate(167.90 381.10) scale(0.0960 0.1)" font-size="57.0" text-anchor="end" stroke="#1e1e1e" stroke-width="1.70">90</text>
<text transform="translate(167.90 359.25) scale(0.0960 0.1)" font-size="57.0" text-anchor="end" stroke="#1e1e1e" stroke-width="1.70">95</text>
<text transform="translate(167.90 337.40) scale(0.0960 0.1)" font-size="57.0" text-anchor="end" stroke="#1e1e1e" stroke-width="1.70">100</text>
<text transform="translate(167.90 315.55) scale(0.0960 0.1)" font-size="57.0" text-anchor="end" stroke="#1e1e1e" stroke-width="1.70">105</text>
<text transform="translate(179.80 409.90) scale(0.0900 0.1)" font-size="65.0" text-anchor="middle" stroke="#1e1e1e" stroke-width="1.70">Forceful</text>
<text transform="translate(218.60 409.90) scale(0.0900 0.1)" font-size="65.0" text-anchor="middle" stroke="#1e1e1e" stroke-width="1.70">Office</text>
<text transform="translate(257.30 409.90) scale(0.0900 0.1)" font-size="65.0" text-anchor="middle" stroke="#1e1e1e" stroke-width="1.70">Precision</text>
<path d="M170.00 400.90H172.5M261.1 400.90H263.60M170.00 379.05H172.5M261.1 379.05H263.60M170.00 357.20H172.5M261.1 357.20H263.60M170.00 335.35H172.5M261.1 335.35H263.60M170.00 313.50H172.5M261.1 313.50H263.60M178.00 308.00V310.5M178.00 401.2V403.70M216.80 308.00V310.5M216.80 401.2V403.70M255.50 308.00V310.5M255.50 401.2V403.70" stroke="#9a9a9a" stroke-width="1" fill="none"/>
<text transform="translate(215.65 302.10) scale(0.1091 0.1)" font-size="85.0" text-anchor="middle" font-weight="bold" fill="#000" stroke="#000" stroke-width="4.50">Occupation</text>
<text transform="translate(218.50 419.50) scale(0.0910 0.1)" font-size="62.0" text-anchor="middle" stroke="#1e1e1e" stroke-width="1.70">occupation</text>
<text transform="translate(153.90 350.35) rotate(-90) scale(0.1000 0.1)" font-size="63.0" text-anchor="middle" stroke="#1e1e1e" stroke-width="1.70">Grip_non-dominant (lbs)</text>
<polygon fill="#d9eafc" points="302.00,364.60 303.43,364.20 304.85,363.81 306.27,363.41 307.70,363.01 309.12,362.60 310.55,362.20 311.98,361.79 313.40,361.38 314.82,360.96 316.25,360.54 317.68,360.11 319.10,359.68 320.52,359.25 321.95,358.81 323.38,358.36 324.80,357.90 326.23,357.43 327.65,356.95 329.07,356.46 330.50,355.96 331.93,355.43 333.35,354.89 334.77,354.33 336.20,353.74 337.62,353.12 339.05,352.47 340.48,351.79 341.90,351.06 343.32,350.29 344.75,349.47 346.18,348.61 347.60,347.70 349.02,346.73 350.45,345.72 351.88,344.67 353.30,343.58 354.73,342.45 356.15,341.29 357.57,340.10 359.00,338.88 360.43,337.64 361.85,336.38 363.27,335.11 364.70,333.82 366.12,332.52 367.55,331.21 368.98,329.89 370.40,328.56 371.82,327.22 373.25,325.88 374.68,324.53 376.10,323.17 377.52,321.81 378.95,320.45 380.38,319.08 381.80,317.71 383.23,316.34 384.65,314.96 386.07,313.58 387.50,312.20 387.50,344.60 386.07,345.00 384.65,345.40 383.23,345.80 381.80,346.21 380.38,346.62 378.95,347.03 377.52,347.45 376.10,347.87 374.68,348.29 373.25,348.72 371.82,349.16 370.40,349.60 368.98,350.05 367.55,350.51 366.12,350.98 364.70,351.46 363.27,351.95 361.85,352.46 360.43,352.98 359.00,353.52 357.57,354.08 356.15,354.67 354.73,355.29 353.30,355.94 351.88,356.63 350.45,357.36 349.02,358.13 347.60,358.94 346.18,359.81 344.75,360.73 343.32,361.69 341.90,362.70 340.48,363.75 339.05,364.85 337.62,365.98 336.20,367.14 334.77,368.33 333.35,369.55 331.93,370.79 330.50,372.04 329.07,373.32 327.65,374.61 326.23,375.91 324.80,377.22 323.38,378.54 321.95,379.87 320.52,381.21 319.10,382.56 317.68,383.91 316.25,385.26 314.82,386.62 313.40,387.98 311.98,389.35 310.55,390.72 309.12,392.10 307.70,393.47 306.27,394.85 304.85,396.23 303.43,397.62 302.00,399.00"/>
<line x1="302.0" y1="381.8" x2="387.5" y2="328.4" stroke="#2a8cf5" stroke-width="1.1"/>
<rect x="301.90" y="398.40" width="1.0" height="3" fill="#000" fill-opacity="0.25"/>
<rect x="308.39" y="398.40" width="2.0" height="3" fill="#000" fill-opacity="0.55"/>
<rect x="315.38" y="398.40" width="2.0" height="3" fill="#000" fill-opacity="0.6"/>
<rect x="322.27" y="398.40" width="2.2" height="3" fill="#000" fill-opacity="0.8"/>
<rect x="328.92" y="398.40" width="2.9" height="3" fill="#000" fill-opacity="1"/>
<rect x="335.91" y="398.40" width="2.9" height="3" fill="#000" fill-opacity="1"/>
<rect x="342.90" y="398.40" width="2.9" height="3" fill="#000" fill-opacity="1"/>
<rect x="349.89" y="398.40" width="2.9" height="3" fill="#000" fill-opacity="1"/>
<rect x="356.88" y="398.40" width="2.9" height="3" fill="#000" fill-opacity="1"/>
<rect x="363.88" y="398.40" width="2.9" height="3" fill="#000" fill-opacity="1"/>
<rect x="371.22" y="398.40" width="2.2" height="3" fill="#000" fill-opacity="0.75"/>
<rect x="378.31" y="398.40" width="2.0" height="3" fill="#000" fill-opacity="0.3"/>
<rect x="385.90" y="398.40" width="0.8" height="3" fill="#000" fill-opacity="0.5"/>
<rect x="300.3" y="310.5" width="88.30000000000001" height="90.89999999999998" fill="none" stroke="#9a9a9a" stroke-width="1"/>
<text transform="translate(295.70 392.25) scale(0.0960 0.1)" font-size="57.0" text-anchor="end" stroke="#1e1e1e" stroke-width="1.70">75</text>
<text transform="translate(295.70 380.32) scale(0.0960 0.1)" font-size="57.0" text-anchor="end" stroke="#1e1e1e" stroke-width="1.70">80</text>
<text transform="translate(295.70 368.39) scale(0.0960 0.1)" font-size="57.0" text-anchor="end" stroke="#1e1e1e" stroke-width="1.70">85</text>
<text transform="translate(295.70 356.45) scale(0.0960 0.1)" font-size="57.0" text-anchor="end" stroke="#1e1e1e" stroke-width="1.70">90</text>
<text transform="translate(295.70 344.52) scale(0.0960 0.1)" font-size="57.0" text-anchor="end" stroke="#1e1e1e" stroke-width="1.70">95</text>
<text transform="translate(295.70 332.59) scale(0.0960 0.1)" font-size="57.0" text-anchor="end" stroke="#1e1e1e" stroke-width="1.70">100</text>
<text transform="translate(295.70 320.65) scale(0.0960 0.1)" font-size="57.0" text-anchor="end" stroke="#1e1e1e" stroke-width="1.70">105</text>
<text transform="translate(302.40 410.70) scale(0.0960 0.1)" font-size="57.0" text-anchor="middle" stroke="#1e1e1e" stroke-width="1.70">0.42</text>
<text transform="translate(316.38 410.70) scale(0.0960 0.1)" font-size="57.0" text-anchor="middle" stroke="#1e1e1e" stroke-width="1.70">0.44</text>
<text transform="translate(330.37 410.70) scale(0.0960 0.1)" font-size="57.0" text-anchor="middle" stroke="#1e1e1e" stroke-width="1.70">0.46</text>
<text transform="translate(344.35 410.70) scale(0.0960 0.1)" font-size="57.0" text-anchor="middle" stroke="#1e1e1e" stroke-width="1.70">0.48</text>
<text transform="translate(358.33 410.70) scale(0.0960 0.1)" font-size="57.0" text-anchor="middle" stroke="#1e1e1e" stroke-width="1.70">0.50</text>
<text transform="translate(372.32 410.70) scale(0.0960 0.1)" font-size="57.0" text-anchor="middle" stroke="#1e1e1e" stroke-width="1.70">0.52</text>
<text transform="translate(386.30 410.70) scale(0.0960 0.1)" font-size="57.0" text-anchor="middle" stroke="#1e1e1e" stroke-width="1.70">0.54</text>
<path d="M297.80 390.20H300.3M388.6 390.20H391.10M297.80 378.27H300.3M388.6 378.27H391.10M297.80 366.33H300.3M388.6 366.33H391.10M297.80 354.40H300.3M388.6 354.40H391.10M297.80 342.47H300.3M388.6 342.47H391.10M297.80 330.53H300.3M388.6 330.53H391.10M297.80 318.60H300.3M388.6 318.60H391.10M302.40 308.00V310.5M302.40 401.4V403.90M316.38 308.00V310.5M316.38 401.4V403.90M330.37 308.00V310.5M330.37 401.4V403.90M344.35 308.00V310.5M344.35 401.4V403.90M358.33 308.00V310.5M358.33 401.4V403.90M372.32 308.00V310.5M372.32 401.4V403.90M386.30 308.00V310.5M386.30 401.4V403.90" stroke="#9a9a9a" stroke-width="1" fill="none"/>
<text transform="translate(346.40 302.40) scale(0.1115 0.1)" font-size="85.0" text-anchor="middle" font-weight="bold" fill="#000" stroke="#000" stroke-width="4.50">Hand shape</text>
<text transform="translate(347.75 417.40) scale(0.1012 0.1)" font-size="61.0" text-anchor="middle" stroke="#1e1e1e" stroke-width="1.70">ratio W/L</text>
<text transform="translate(282.60 355.25) rotate(-90) scale(0.1002 0.1)" font-size="63.0" text-anchor="middle" stroke="#1e1e1e" stroke-width="1.70">Grip_non-dominant (lbs)</text>
<polyline fill="none" stroke="#2a8cf5" stroke-width="1.1" points="47.60,510.00 127.50,484.20"/>
<path d="M45.40 485.00H49.80M47.60 485.00V534.80M45.40 534.80H49.80" stroke="#ff84fa" stroke-width="1" fill="none"/>
<path d="M125.30 448.20H129.70M127.50 448.20V519.60M125.30 519.60H129.70" stroke="#ff84fa" stroke-width="1" fill="none"/>
<circle cx="47.60" cy="510.00" r="1.75" fill="#2a8cf5"/>
<circle cx="127.50" cy="484.20" r="1.75" fill="#2a8cf5"/>
<rect x="41.7" y="446.4" width="91.7" height="90.89999999999998" fill="none" stroke="#9a9a9a" stroke-width="1"/>
<text transform="translate(37.10 522.35) scale(0.0960 0.1)" font-size="57.0" text-anchor="end" stroke="#1e1e1e" stroke-width="1.70">88</text>
<text transform="translate(37.10 504.68) scale(0.0960 0.1)" font-size="57.0" text-anchor="end" stroke="#1e1e1e" stroke-width="1.70">90</text>
<text transform="translate(37.10 487.00) scale(0.0960 0.1)" font-size="57.0" text-anchor="end" stroke="#1e1e1e" stroke-width="1.70">92</text>
<text transform="translate(37.10 469.33) scale(0.0960 0.1)" font-size="57.0" text-anchor="end" stroke="#1e1e1e" stroke-width="1.70">94</text>
<text transform="translate(37.10 451.65) scale(0.0960 0.1)" font-size="57.0" text-anchor="end" stroke="#1e1e1e" stroke-width="1.70">96</text>
<text transform="translate(48.40 545.60) scale(0.0900 0.1)" font-size="66.0" text-anchor="middle" stroke="#1e1e1e" stroke-width="1.70">No</text>
<text transform="translate(125.70 545.60) scale(0.0900 0.1)" font-size="66.0" text-anchor="middle" stroke="#1e1e1e" stroke-width="1.70">Yes</text>
<path d="M39.20 520.30H41.7M133.4 520.30H135.90M39.20 502.62H41.7M133.4 502.62H135.90M39.20 484.95H41.7M133.4 484.95H135.90M39.20 467.27H41.7M133.4 467.27H135.90M39.20 449.60H41.7M133.4 449.60H135.90M47.60 443.90V446.4M47.60 537.3V539.80M127.50 443.90V446.4M127.50 537.3V539.80" stroke="#9a9a9a" stroke-width="1" fill="none"/>
<text transform="translate(85.90 439.30) scale(0.1059 0.1)" font-size="85.0" text-anchor="middle" font-weight="bold" fill="#000" stroke="#000" stroke-width="4.50">Music</text>
<text transform="translate(24.00 484.35) rotate(-90) scale(0.1000 0.1)" font-size="63.0" text-anchor="middle" stroke="#1e1e1e" stroke-width="1.70">Grip_non-dominant (lbs)</text>
<polyline fill="none" stroke="#2a8cf5" stroke-width="1.1" points="175.30,502.60 255.20,468.30"/>
<path d="M173.10 470.80H177.50M175.30 470.80V534.80M173.10 534.80H177.50" stroke="#ff84fa" stroke-width="1" fill="none"/>
<path d="M253.00 448.20H257.40M255.20 448.20V488.50M253.00 488.50H257.40" stroke="#ff84fa" stroke-width="1" fill="none"/>
<circle cx="175.30" cy="502.60" r="1.75" fill="#2a8cf5"/>
<circle cx="255.20" cy="468.30" r="1.75" fill="#2a8cf5"/>
<rect x="169.5" y="446.4" width="91.10000000000002" height="90.89999999999998" fill="none" stroke="#9a9a9a" stroke-width="1"/>
<text transform="translate(164.90 538.85) scale(0.0960 0.1)" font-size="57.0" text-anchor="end" stroke="#1e1e1e" stroke-width="1.70">82</text>
<text transform="translate(164.90 524.45) scale(0.0960 0.1)" font-size="57.0" text-anchor="end" stroke="#1e1e1e" stroke-width="1.70">84</text>
<text transform="translate(164.90 510.05) scale(0.0960 0.1)" font-size="57.0" text-anchor="end" stroke="#1e1e1e" stroke-width="1.70">86</text>
<text transform="translate(164.90 495.65) scale(0.0960 0.1)" font-size="57.0" text-anchor="end" stroke="#1e1e1e" stroke-width="1.70">88</text>
<text transform="translate(164.90 481.25) scale(0.0960 0.1)" font-size="57.0" text-anchor="end" stroke="#1e1e1e" stroke-width="1.70">90</text>
<text transform="translate(164.90 466.85) scale(0.0960 0.1)" font-size="57.0" text-anchor="end" stroke="#1e1e1e" stroke-width="1.70">92</text>
<text transform="translate(164.90 452.45) scale(0.0960 0.1)" font-size="57.0" text-anchor="end" stroke="#1e1e1e" stroke-width="1.70">94</text>
<text transform="translate(175.50 545.60) scale(0.0900 0.1)" font-size="66.0" text-anchor="middle" stroke="#1e1e1e" stroke-width="1.70">No</text>
<text transform="translate(255.80 545.60) scale(0.0900 0.1)" font-size="66.0" text-anchor="middle" stroke="#1e1e1e" stroke-width="1.70">Yes</text>
<path d="M167.00 536.80H169.5M260.6 536.80H263.10M167.00 522.40H169.5M260.6 522.40H263.10M167.00 508.00H169.5M260.6 508.00H263.10M167.00 493.60H169.5M260.6 493.60H263.10M167.00 479.20H169.5M260.6 479.20H263.10M167.00 464.80H169.5M260.6 464.80H263.10M167.00 450.40H169.5M260.6 450.40H263.10M175.30 443.90V446.4M175.30 537.3V539.80M255.20 443.90V446.4M255.20 537.3V539.80" stroke="#9a9a9a" stroke-width="1" fill="none"/>
<text transform="translate(214.90 439.30) scale(0.1122 0.1)" font-size="85.0" text-anchor="middle" font-weight="bold" fill="#000" stroke="#000" stroke-width="4.50">Sport</text>
<text transform="translate(153.80 489.20) rotate(-90) scale(0.1004 0.1)" font-size="63.0" text-anchor="middle" stroke="#1e1e1e" stroke-width="1.70">Grip_non-dominant (lbs)</text>
<polyline fill="none" stroke="#2a8cf5" stroke-width="1.1" points="303.00,494.80 383.00,461.30"/>
<path d="M300.80 455.20H305.20M303.00 455.20V535.50M300.80 535.50H305.20" stroke="#ff84fa" stroke-width="1" fill="none"/>
<path d="M380.80 448.20H385.20M383.00 448.20V474.30M380.80 474.30H385.20" stroke="#ff84fa" stroke-width="1" fill="none"/>
<circle cx="303.00" cy="494.80" r="1.75" fill="#2a8cf5"/>
<circle cx="383.00" cy="461.30" r="1.75" fill="#2a8cf5"/>
<rect x="297.4" y="446.4" width="91.20000000000005" height="90.89999999999998" fill="none" stroke="#9a9a9a" stroke-width="1"/>
<text transform="translate(292.80 521.65) scale(0.0960 0.1)" font-size="57.0" text-anchor="end" stroke="#1e1e1e" stroke-width="1.70">80</text>
<text transform="translate(292.80 494.60) scale(0.0960 0.1)" font-size="57.0" text-anchor="end" stroke="#1e1e1e" stroke-width="1.70">85</text>
<text transform="translate(292.80 467.55) scale(0.0960 0.1)" font-size="57.0" text-anchor="end" stroke="#1e1e1e" stroke-width="1.70">90</text>
<text transform="translate(304.40 545.60) scale(0.0900 0.1)" font-size="66.0" text-anchor="middle" stroke="#1e1e1e" stroke-width="1.70">Left</text>
<text transform="translate(381.60 545.60) scale(0.0900 0.1)" font-size="66.0" text-anchor="middle" stroke="#1e1e1e" stroke-width="1.70">Right</text>
<path d="M294.90 519.60H297.4M388.6 519.60H391.10M294.90 492.55H297.4M388.6 492.55H391.10M294.90 465.50H297.4M388.6 465.50H391.10M303.00 443.90V446.4M303.00 537.3V539.80M383.00 443.90V446.4M383.00 537.3V539.80" stroke="#9a9a9a" stroke-width="1" fill="none"/>
<text transform="translate(344.30 440.00) scale(0.1136 0.1)" font-size="85.0" text-anchor="middle" font-weight="bold" fill="#000" stroke="#000" stroke-width="4.50">Hand preference</text>
<text transform="translate(281.90 490.10) rotate(-90) scale(0.1007 0.1)" font-size="63.0" text-anchor="middle" stroke="#1e1e1e" stroke-width="1.70">Grip_non-dominant (lbs)</text>
<text transform="translate(3.70 17.30) scale(0.1080 0.1)" font-size="146.0" font-weight="bold" fill="#000" stroke="#000" stroke-width="7.00">A</text>
<text transform="translate(4.30 301.70) scale(0.0920 0.1)" font-size="146.0" font-weight="bold" fill="#000" stroke="#000" stroke-width="7.00">B</text>
</svg>
</body></html>
